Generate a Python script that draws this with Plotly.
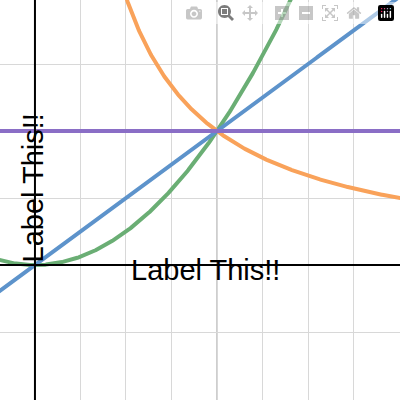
import numpy as np
import plotly.graph_objects as go

x_range = [-0.192, 2.005]
y_range = [-1.007, 1.978]
x_label = "Label This!!"
y_label = "Label This!!"

xs = np.linspace(-0.3, 2.1, 600)
xs_pos = np.linspace(0.3, 2.1, 600)

fig = go.Figure()
fig.add_trace(go.Scatter(x=xs, y=xs**2, mode="lines", line=dict(color="#6aae74", width=4)))
fig.add_trace(go.Scatter(x=xs_pos, y=1/xs_pos, mode="lines", line=dict(color="#f9a25a", width=4)))
fig.add_trace(go.Scatter(x=xs, y=xs, mode="lines", line=dict(color="#5d93cb", width=4)))
fig.add_trace(go.Scatter(x=[-0.3, 2.1], y=[1, 1], mode="lines", line=dict(color="#8a6ec6", width=4)))

fig.add_shape(type="line", x0=1, x1=1, y0=-2, y1=3, line=dict(color="#999", width=1), layer="below")
fig.add_shape(type="line", x0=0, x1=0, y0=-2, y1=3, line=dict(color="black", width=2))
fig.add_shape(type="line", x0=-1, x1=3, y0=0, y1=0, line=dict(color="black", width=2))

fig.add_annotation(xref="paper", yref="paper", x=282/400, y=1-288/400, text=x_label, showarrow=False,
                   font=dict(family="Arial", size=29, color="black"))
fig.add_annotation(xref="paper", yref="paper", x=14/400, y=1-112/400, text=y_label, textangle=-90,
                   showarrow=False, font=dict(family="Arial", size=29, color="black"))

fig.update_xaxes(range=x_range, dtick=0.25, tick0=0, showgrid=True, gridcolor="#d8d8d8", gridwidth=1,
                 zeroline=False, showticklabels=False, ticks="")
fig.update_yaxes(range=y_range, dtick=0.5, tick0=0, showgrid=True, gridcolor="#d8d8d8", gridwidth=1,
                 zeroline=False, showticklabels=False, ticks="")
fig.update_layout(width=400, height=400, margin=dict(l=0, r=0, t=0, b=0), showlegend=False,
                  plot_bgcolor="white", paper_bgcolor="white")
fig.write_html("out.html", post_script="document.body.style.margin='0';document.body.style.overflow='hidden';")
